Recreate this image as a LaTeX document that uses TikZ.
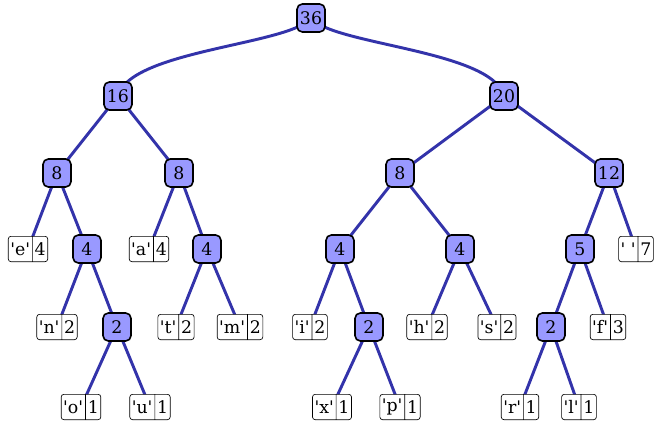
\documentclass[tikz,border=0pt]{standalone}
\usepackage{fontspec}
\setmainfont{DejaVu Serif}
\usetikzlibrary{shapes.multipart,backgrounds}
\definecolor{edgeblue}{HTML}{3333AA}
\definecolor{nodeblue}{HTML}{9999FF}
\tikzset{
  inner/.style={draw=black,line width=1.2pt,fill=nodeblue,rounded corners=4pt,
    minimum height=21pt,minimum width=21pt,inner sep=2pt,font=\fontsize{13}{15}\selectfont},
  leaf/.style={draw=black,line width=0.5pt,fill=white,rounded corners=2pt,
    rectangle split,rectangle split horizontal,rectangle split parts=2,
    inner sep=1.5pt,minimum height=19pt,font=\fontsize{13}{15}\selectfont},
  edge/.style={draw=edgeblue,line width=2.2pt}
}
\newcommand{\q}[1]{\textquotesingle#1\textquotesingle}
\begin{document}
\begin{tikzpicture}[x=0.75pt,y=-0.75pt]
  \useasboundingbox (0,0) rectangle (670,431);
  % internal nodes
  \node[inner] (r)    at (311,18)  {36};
  \node[inner] (l)    at (118,96)  {16};
  \node[inner] (rt)   at (504,96)  {20};
  \node[inner] (ll)   at (57,173)  {8};
  \node[inner] (lr)   at (179,173) {8};
  \node[inner] (rl)   at (400,173) {8};
  \node[inner] (rr)   at (609,173) {12};
  \node[inner] (llr)  at (87,249)  {4};
  \node[inner] (lrr)  at (207,249) {4};
  \node[inner] (rll)  at (340,249) {4};
  \node[inner] (rlr)  at (460,249) {4};
  \node[inner] (rrl)  at (580,249) {5};
  \node[inner] (llrr) at (117,327) {2};
  \node[inner] (rllr) at (369,327) {2};
  \node[inner] (rrll) at (551,327) {2};
  % leaves
  \node[leaf] (e) at (28,249)  {\q{e}\nodepart{two}4};
  \node[leaf] (a) at (149,249) {\q{a}\nodepart{two}4};
  \node[leaf] (sp) at (636,249) {\q{\ }\nodepart{two}7};
  \node[leaf] (n) at (57,327)  {\q{n}\nodepart{two}2};
  \node[leaf] (t) at (176,327) {\q{t}\nodepart{two}2};
  \node[leaf] (m) at (240,327) {\q{m}\nodepart{two}2};
  \node[leaf] (i) at (310,327) {\q{i}\nodepart{two}2};
  \node[leaf] (h) at (427,327) {\q{h}\nodepart{two}2};
  \node[leaf] (s) at (497,327) {\q{s}\nodepart{two}2};
  \node[leaf] (f) at (608,327) {\q{f}\nodepart{two}3};
  \node[leaf] (o) at (81,407)  {\q{o}\nodepart{two}1};
  \node[leaf] (u) at (150,407) {\q{u}\nodepart{two}1};
  \node[leaf] (x) at (332,407) {\q{x}\nodepart{two}1};
  \node[leaf] (p) at (400,407) {\q{p}\nodepart{two}1};
  \node[leaf] (rr1) at (520,407) {\q{r}\nodepart{two}1};
  \node[leaf] (lq) at (579,407) {\q{l}\nodepart{two}1};
  % edges
  \begin{scope}[on background layer]
  \draw[edge] (r.center) .. controls (290,45) and (130,50) .. (l.center);
  \draw[edge] (r.center) .. controls (332,45) and (492,50) .. (rt.center);
  \foreach \a/\b in {l/ll,l/lr,rt/rl,rt/rr,ll/e,ll/llr,lr/a,lr/lrr,
      rl/rll,rl/rlr,rr/rrl,rr/sp,llr/n,llr/llrr,lrr/t,lrr/m,rll/i,rll/rllr,
      rlr/h,rlr/s,rrl/rrll,rrl/f,llrr/o,llrr/u,rllr/x,rllr/p,rrll/rr1,rrll/lq}
    \draw[edge] (\a.center) -- (\b.center);
  \end{scope}
\end{tikzpicture}
\end{document}
